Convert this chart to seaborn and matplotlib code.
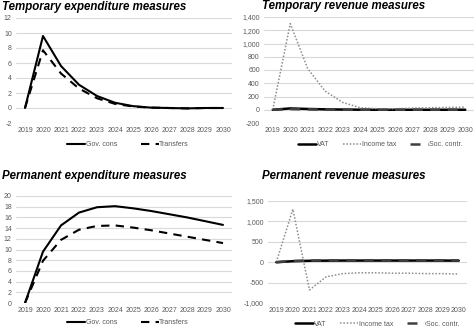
import matplotlib
matplotlib.use("Agg")
import matplotlib.pyplot as plt
import seaborn as sns
import pandas as pd
from matplotlib.ticker import FuncFormatter, FixedLocator

sns.set_theme(style="white")
plt.rcParams['font.family'] = ['Liberation Sans', 'DejaVu Sans']

years = list(range(2019, 2031))

# Temporary expenditure measures
temp_exp_gov = [0, 9.6, 5.6, 3.1, 1.6, 0.7, 0.25, 0.05, 0.0, -0.05, 0.0, 0.0]
temp_exp_tr = [0, 7.7, 4.6, 2.6, 1.3, 0.55, 0.2, 0.05, 0.0, -0.05, 0.0, 0.0]

# Temporary revenue measures
temp_rev_vat = [0, 20, 12, 6, 3, 1, 0, 0, 0, 0, 0, 0]
temp_rev_inc = [0, 1300, 620, 280, 110, 30, 15, 15, 25, 30, 35, 40]
temp_rev_soc = [0, 10, 5, 2, 1, 0, 0, 0, 0, 0, 0, 0]

# Permanent expenditure measures
perm_exp_gov = [0, 9.6, 14.5, 16.9, 17.9, 18.1, 17.7, 17.2, 16.6, 16.0, 15.3, 14.6]
perm_exp_tr = [0, 7.9, 11.8, 13.7, 14.4, 14.5, 14.1, 13.6, 13.0, 12.4, 11.8, 11.2]

# Permanent revenue measures
perm_rev_vat = [0, 25, 35, 38, 40, 40, 40, 40, 40, 40, 40, 38]
perm_rev_inc = [0, 1300, -680, -360, -280, -260, -260, -270, -270, -280, -280, -290]
perm_rev_soc = [0, 30, 40, 45, 48, 48, 48, 48, 48, 48, 48, 45]

titles = ["Temporary expenditure measures", "Temporary revenue measures",
          "Permanent expenditure measures", "Permanent revenue measures"]

W, H = 474, 327
fig = plt.figure(figsize=(W / 100, H / 100), dpi=100)


def add_ax(x0, x1, ytop, ybot):
    return fig.add_axes([x0 / W, 1 - ybot / H, (x1 - x0) / W, (ybot - ytop) / H])


styles = {
    "Gov. cons": dict(color="black", linestyle="-", linewidth=1.5),
    "Transfers": dict(color="black", linestyle=(0, (4, 3)), linewidth=1.5),
    "VAT": dict(color="black", linestyle="-", linewidth=1.8),
    "Income tax": dict(color="#8c8c8c", linestyle=(0, (1, 1.2)), linewidth=1.1),
    "Soc. contr.": dict(color="#404040", linestyle=(0, (4, 3)), linewidth=1.8),
}

panels = [
    dict(box=(16, 232, 18, 123), ylim=(-2, 12), step=2, series={"Gov. cons": temp_exp_gov, "Transfers": temp_exp_tr},
         leg_y=145, leg_x=128, colsp=3.4, title_xy=(2, 7)),
    dict(box=(264, 474, 17, 123), ylim=(-200, 1400), step=200,
         series={"VAT": temp_rev_vat, "Income tax": temp_rev_inc, "Soc. contr.": temp_rev_soc},
         leg_y=145, leg_x=380, colsp=2.0, title_xy=(262, 6)),
    dict(box=(16, 232, 196, 303), ylim=(0, 20), step=2, series={"Gov. cons": perm_exp_gov, "Transfers": perm_exp_tr},
         leg_y=323, leg_x=128, colsp=3.4, title_xy=(2, 176)),
    dict(box=(268, 467, 201, 303), ylim=(-1000, 1500), step=500,
         series={"VAT": perm_rev_vat, "Income tax": perm_rev_inc, "Soc. contr.": perm_rev_soc},
         leg_y=324, leg_x=377, colsp=2.0, title_xy=(262, 176)),
]

for p, title in zip(panels, titles):
    x0, x1, yt, yb = p["box"]
    ax = add_ax(x0, x1, yt, yb)
    for name, vals in p["series"].items():
        df = pd.DataFrame({"year": years, "value": vals})
        sns.lineplot(data=df, x="year", y="value", ax=ax, label=name, **styles[name])
    lo, hi = p["ylim"]
    ax.set_ylim(lo, hi)
    ax.set_xlim(2018.5, 2030.5)
    ticks = list(range(lo, hi + 1, p["step"]))
    ax.yaxis.set_major_locator(FixedLocator(ticks))
    ax.yaxis.set_major_formatter(FuncFormatter(lambda v, _: f"{int(v):,}"))
    ax.set_xticks(years)
    ax.set_xticklabels([str(y) for y in years])
    ax.tick_params(axis="both", length=0, labelsize=5, labelcolor="#595959", pad=3)
    ax.grid(axis="y", color="#d9d9d9", linewidth=0.8)
    ax.set_axisbelow(True)
    for s in ax.spines.values():
        s.set_visible(False)
    ax.set_xlabel("")
    ax.set_ylabel("")
    handles, labels = ax.get_legend_handles_labels()
    ax.get_legend().remove()
    fig.legend(handles, labels, loc="center", bbox_to_anchor=(p["leg_x"] / W, 1 - p["leg_y"] / H),
               ncol=len(labels), frameon=False, fontsize=5, handlelength=2.6,
               handletextpad=0.1, columnspacing=p["colsp"], labelcolor="#595959")
    tx, ty = p["title_xy"]
    fig.text(tx / W, 1 - ty / H, title, fontsize=8.3, fontweight="bold", fontstyle="italic",
             ha="left", va="center", color="black")

fig.savefig("out.png", dpi=100)
